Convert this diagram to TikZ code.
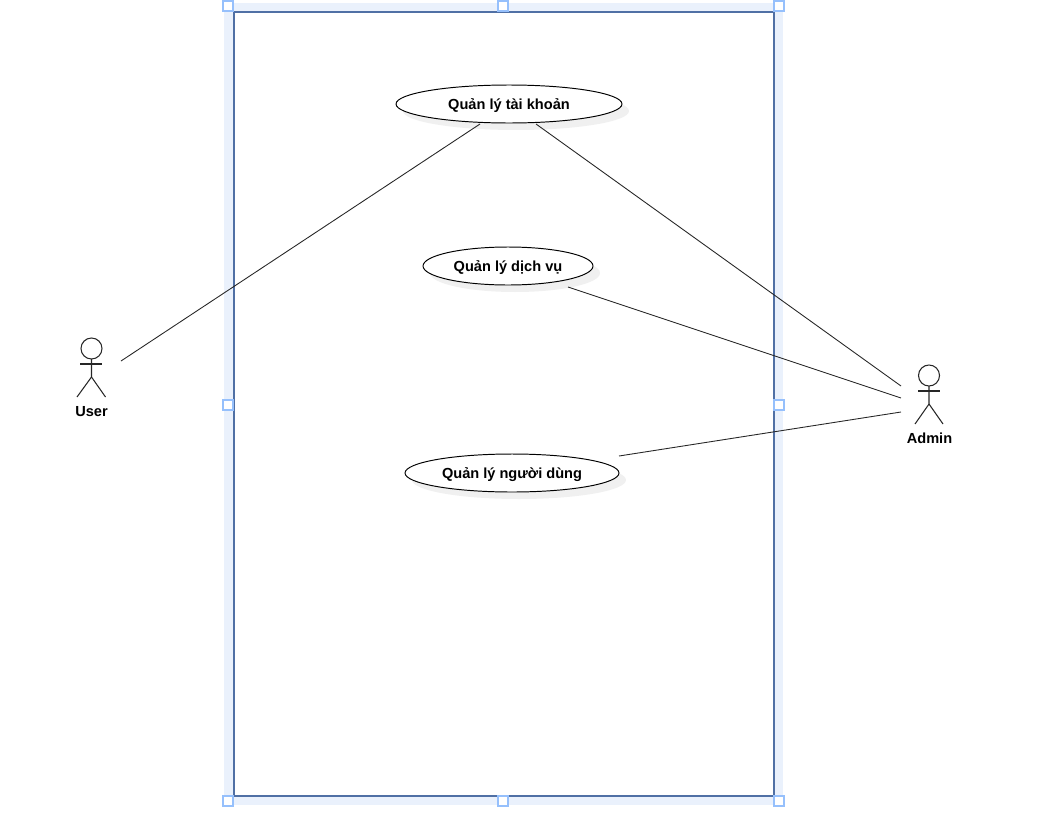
\documentclass[tikz,border=0pt]{standalone}
\usepackage{fontspec}
\setmainfont{Liberation Sans}
\usetikzlibrary{shapes.geometric}
\usetikzlibrary{calc}
\definecolor{selblue}{RGB}{150,192,252}
\definecolor{selpale}{RGB}{234,241,252}
\definecolor{framegrey}{RGB}{80,112,165}
\definecolor{shadowgrey}{RGB}{240,240,240}
\tikzset{
    usecase/.style={ellipse, draw=black, fill=white, line width=0.55pt, inner sep=0pt},
    usecaseshadow/.style={ellipse, fill=shadowgrey, inner sep=0pt},
    caption/.style={font=\bfseries\fontsize{8.3}{10}\selectfont, inner sep=0pt},
    handle/.style={rectangle, draw=selblue, fill=white, line width=1pt, minimum size=0.19cm, inner sep=0pt},
    link/.style={line width=0.5pt, black!85},
    stick/.style={line width=0.6pt, black!85},
}
\begin{document}
\begin{tikzpicture}[x=0.02cm, y=-0.02cm]
                \useasboundingbox (0,0) rectangle (1040,818);

                % selection band
                \fill[selpale] (224,3) rectangle (783,805);
                \fill[white] (234,12) rectangle (774,796);
                \draw[framegrey, line width=1.1pt] (234,12.3) rectangle (774,796.3);

                % shadows
                \node[usecaseshadow, minimum width=4.52cm, minimum height=0.76cm] at (516,111) {};
                \node[usecaseshadow, minimum width=3.4cm, minimum height=0.76cm] at (515,273) {};
                \node[usecaseshadow, minimum width=4.28cm, minimum height=0.76cm] at (519,480) {};

                % use cases
                \node[usecase, minimum width=4.52cm, minimum height=0.76cm] (account) at (509,104) {};
                \node[caption] at (509,105.5) {Quản lý tài khoản};
                \node[usecase, minimum width=3.4cm, minimum height=0.76cm] (service) at (508,266) {};
                \node[caption] at (508,267.5) {Quản lý dịch vụ};
                \node[usecase, minimum width=4.28cm, minimum height=0.76cm] (people) at (512,473) {};
                \node[caption] at (512,474.5) {Quản lý người dùng};

                % user
                \draw[stick] (91.5,348.5) circle (10.5);
                \draw[stick] (80,364) -- (102,364);
                \draw[stick] (91.5,359) -- (91.5,377) -- (77,397);
                \draw[stick] (91.5,377) -- (105.5,397);
                \node[caption] (user) at (91.5,411.5) {User};

                % admin
                \draw[stick] (929,375.5) circle (10.5);
                \draw[stick] (918,391) -- (940,391);
                \draw[stick] (929,386) -- (929,404) -- (915,424);
                \draw[stick] (929,404) -- (943,424);
                \node[caption] (admin) at (929.5,438) {Admin};

                % free ends beside the actors
                \coordinate (userend) at (121,361);
                \coordinate (admintop) at (901,386);
                \coordinate (adminmid) at (901,398);
                \coordinate (adminlow) at (901,412);

                % user to account
                \draw[link] (userend) -- (480,124);
                % admin to account
                \draw[link] (admintop) -- (536,124);
                % admin to service
                \draw[link] (adminmid) -- (568,287);
                % admin to people
                \draw[link] (adminlow) -- (619,456);

                % handles
                \foreach \x/\y in {228/6, 503/6, 779/6, 228/405, 779/405, 228/801, 503/801, 779/801}
                    \node[handle] at (\x,\y) {};
            \end{tikzpicture}
\end{document}
